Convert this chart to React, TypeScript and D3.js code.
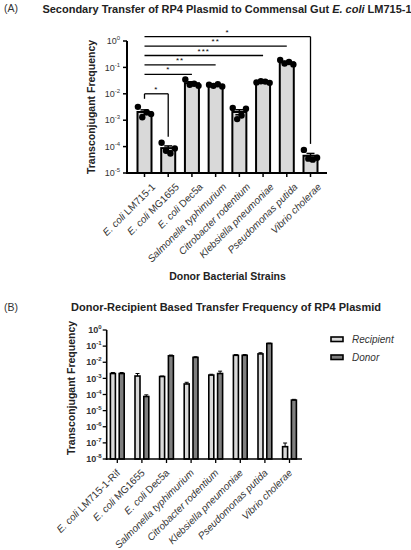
import React from 'react';
import * as d3 from 'd3';

// ---- data, panel A ----
const strainsA = [
  'E. coli LM715-1',
  'E. coli MG1655',
  'E. coli Dec5a',
  'Salmonella typhimurium',
  'Citrobacter rodentium',
  'Klebsiella pneumoniae',
  'Pseudomonas putida',
  'Vibrio cholerae',
];

// four replicate frequencies per strain
const replicatesA = [
  [3.2e-3, 1.3e-3, 2.0e-3, 1.7e-3],
  [1.4e-4, 7.0e-5, 5.5e-5, 8.5e-5],
  [3.5e-2, 2.2e-2, 2.4e-2, 2.0e-2],
  [2.2e-2, 2.0e-2, 2.3e-2, 1.9e-2],
  [2.9e-3, 1.1e-3, 1.5e-3, 2.7e-3],
  [2.7e-2, 3.0e-2, 2.9e-2, 2.6e-2],
  [1.9e-1, 1.4e-1, 1.6e-1, 1.3e-1],
  [7.5e-5, 3.5e-5, 3.2e-5, 3.8e-5],
];

// comparisons against E. coli LM715-1 (index of other strain, label)
const comparisonsA: [number, string][] = [
  [1, '*'],
  [2, '*'],
  [3, '**'],
  [5, '***'],
  [6, '**'],
  [7, '*'],
];

const exponentsA = [0, -1, -2, -3, -4, -5];

// ---- data, panel B ----
const strainsB = [
  'E. coli LM715-1-Rif',
  'E. coli MG1655',
  'E. coli Dec5a',
  'Salmonella typhimurium',
  'Citrobacter rodentium',
  'Klebsiella pneumoniae',
  'Pseudomonas putida',
  'Vibrio cholerae',
];
const roles = ['Recipient', 'Donor'];
const recipientB = [2.0e-3, 1.4e-3, 1.3e-3, 4.5e-4, 1.6e-3, 2.7e-2, 3.3e-2, 5.8e-8];
const recipientErrB = [3e-4, 6e-4, 1e-4, 1.2e-4, 2e-4, 3e-3, 6e-3, 4e-8];
const donorB = [2.0e-3, 7.5e-5, 2.5e-2, 2.0e-2, 2.0e-3, 2.7e-2, 1.45e-1, 4.5e-5];
const donorErrB = [3e-4, 2e-5, 3e-3, 2e-3, 8e-4, 3e-3, 1e-2, 5e-6];
const exponentsB = [0, -1, -2, -3, -4, -5, -6, -7, -8];

const FONT = '"Liberation Sans", Arial, Helvetica, sans-serif';
const LIGHT = '#d9d9d9';
const DARK = '#7f7f7f';

const splitName = (name: string): [string, string] => {
  if (name.startsWith('E. coli ')) return ['E. coli', ' ' + name.slice(8)];
  return [name, ''];
};

const Pow = ({ x, y, e, bold }: { x: number; y: number; e: number; bold?: boolean }) => (
  <text x={x} y={y} dy="0.35em" textAnchor="end" fontSize={9} fill="#333" fontWeight={bold ? 'bold' : 'normal'}>
    10<tspan dy={-4} fontSize={6}>{e}</tspan>
  </text>
);

const mean = (a: number[]) => d3.mean(a) as number;
const sem = (a: number[]) => (d3.deviation(a) as number) / Math.sqrt(a.length);

const PanelA = () => {
  const x = d3.scalePoint<string>().domain(strainsA).range([144.5, 310.5]);
  const y = d3.scaleLog().domain([1e-5, 1]).range([173, 41]);
  const barW = 14;
  const axisX = 127;
  const x0 = x(strainsA[0]) as number;

  return (
    <g>
      <text x={4} y={12} fontSize={10.5} fill="#333">(A)</text>
      <text x={227} y={13} fontSize={11} fontWeight="bold" textAnchor="middle" fill="#222">
        Secondary Transfer of RP4 Plasmid to Commensal Gut <tspan fontStyle="italic">E. coli</tspan> LM715-1
      </text>

      {/* bars, error bars, replicate dots */}
      {strainsA.map((s, i) => {
        const m = mean(replicatesA[i]);
        const se = sem(replicatesA[i]);
        const cx = x(s) as number;
        return (
          <g key={s}>
            <rect x={cx - barW / 2} y={y(m)} width={barW} height={173 - y(m)} fill={LIGHT} stroke="#000" strokeWidth={2} />
            <line x1={cx} x2={cx} y1={y(m - se)} y2={y(m + se)} stroke="#000" strokeWidth={1.5} />
            <line x1={cx - 4} x2={cx + 4} y1={y(m + se)} y2={y(m + se)} stroke="#000" strokeWidth={1.5} />
            <line x1={cx - 4} x2={cx + 4} y1={y(m - se)} y2={y(m - se)} stroke="#000" strokeWidth={1.5} />
            {replicatesA[i].map((v, k) => (
              <circle key={k} cx={cx + (k - 1.5) * 4.4} cy={y(v)} r={3.2} fill="#000" />
            ))}
          </g>
        );
      })}

      {/* significance lines */}
      {comparisonsA.map(([j, label], k) => {
        const xj = x(strainsA[j]) as number;
        const ly = k === 0 ? y(1e-2) : 74.3 - (k - 1) * 9.4;
        const dropTo = y(d3.max(replicatesA[j]) as number) - 6;
        return (
          <g key={k}>
            <line x1={x0} x2={xj} y1={ly} y2={ly} stroke="#000" strokeWidth={1.3} />
            {k === 0 && <line x1={x0} x2={x0} y1={ly} y2={ly + 5} stroke="#000" strokeWidth={1.3} />}
            {(k === 0 || k === comparisonsA.length - 1) && (
              <line x1={xj} x2={xj} y1={ly} y2={dropTo} stroke="#000" strokeWidth={1.3} />
            )}
            <text x={(x0 + xj) / 2} y={ly - 2} fontSize={8} textAnchor="middle" fill="#000" letterSpacing={1}>{label}</text>
          </g>
        );
      })}

      {/* axes */}
      <line x1={axisX} x2={axisX} y1={41} y2={174} stroke="#000" strokeWidth={2} />
      <line x1={axisX - 1} x2={327} y1={173} y2={173} stroke="#000" strokeWidth={2} />
      {exponentsA.map((e) => (
        <g key={e}>
          <line x1={axisX - 4} x2={axisX} y1={y(10 ** e)} y2={y(10 ** e)} stroke="#000" strokeWidth={1.5} />
          <Pow x={120} y={y(10 ** e)} e={e} />
        </g>
      ))}
      {strainsA.map((s) => {
        const cx = x(s) as number;
        const [it, rest] = splitName(s);
        return (
          <g key={s}>
            <line x1={cx} x2={cx} y1={173} y2={177} stroke="#000" strokeWidth={1.5} />
            <text transform={`translate(${cx + 9},${185}) rotate(-45)`} textAnchor="end" fontSize={10} fill="#333" dy="0.35em">
              <tspan fontStyle="italic">{it}</tspan>{rest}
            </text>
          </g>
        );
      })}
      <text transform={`translate(95,107) rotate(-90)`} textAnchor="middle" fontSize={10.5} fontWeight="bold" fill="#222">
        Transconjugant Frequency
      </text>
      <text x={227.5} y={280} textAnchor="middle" fontSize={10.5} fontWeight="bold" fill="#222">
        Donor Bacterial Strains
      </text>
    </g>
  );
};

const PanelB = () => {
  const x = d3.scalePoint<string>().domain(strainsB).range([117.3, 289.5]);
  const sub = d3.scalePoint<string>().domain(roles).range([-4.4, 4.4]);
  const y = d3.scaleLog().domain([1e-8, 1]).range([459, 330]);
  const barW = 5;
  const axisX = 106.7;
  const series = [
    { role: 'Recipient', values: recipientB, errs: recipientErrB, fill: LIGHT },
    { role: 'Donor', values: donorB, errs: donorErrB, fill: DARK },
  ];

  return (
    <g>
      <text x={4} y={311} fontSize={10.5} fill="#333">(B)</text>
      <text x={226} y={311} fontSize={11} fontWeight="bold" textAnchor="middle" fill="#222">
        Donor-Recipient Based Transfer Frequency of RP4 Plasmid
      </text>

      {series.map((sr) =>
        strainsB.map((s, i) => {
          const cx = (x(s) as number) + (sub(sr.role) as number);
          const v = sr.values[i];
          const top = y(v + sr.errs[i]);
          return (
            <g key={sr.role + s}>
              <line x1={cx} x2={cx} y1={y(v)} y2={top} stroke="#000" strokeWidth={1} />
              <line x1={cx - 2} x2={cx + 2} y1={top} y2={top} stroke="#000" strokeWidth={1} />
              <rect x={cx - barW / 2} y={y(v)} width={barW} height={459 - y(v)} fill={sr.fill} stroke="#000" strokeWidth={1.6} />
            </g>
          );
        })
      )}

      {/* axes */}
      <line x1={axisX} x2={axisX} y1={330} y2={460} stroke="#000" strokeWidth={1.6} />
      <line x1={axisX - 1} x2={302} y1={459} y2={459} stroke="#000" strokeWidth={1.6} />
      {exponentsB.map((e) => (
        <g key={e}>
          <line x1={axisX - 4} x2={axisX} y1={y(10 ** e)} y2={y(10 ** e)} stroke="#000" strokeWidth={1.3} />
          <Pow x={101.5} y={y(10 ** e)} e={e} bold />
        </g>
      ))}
      {strainsB.map((s) => {
        const cx = x(s) as number;
        const [it, rest] = splitName(s);
        return (
          <g key={s}>
            <line x1={cx} x2={cx} y1={459} y2={463} stroke="#000" strokeWidth={1.3} />
            <text transform={`translate(${cx + 1},${471}) rotate(-45)`} textAnchor="end" fontSize={10} fill="#333" dy="0.35em">
              <tspan fontStyle="italic">{it}</tspan>{rest}
            </text>
          </g>
        );
      })}
      <text transform={`translate(75,388) rotate(-90)`} textAnchor="middle" fontSize={10.5} fontWeight="bold" fill="#222">
        Transconjugant Frequency
      </text>

      {/* legend */}
      {series.map((sr, k) => (
        <g key={sr.role}>
          <rect x={331} y={337 + k * 18} width={12} height={4.5} fill={sr.fill} stroke="#000" strokeWidth={1.6} />
          <text x={352} y={339.5 + k * 18} dy="0.35em" fontSize={10} fontStyle="italic" fill="#333">{sr.role}</text>
        </g>
      ))}
    </g>
  );
};

export default function App() {
  return (
    <svg width={411} height={550} style={{ position: 'absolute', left: 0, top: 0, background: '#fff' }} fontFamily={FONT}>
      <rect width={411} height={550} fill="#fff" />
      <PanelA />
      <PanelB />
    </svg>
  );
}
